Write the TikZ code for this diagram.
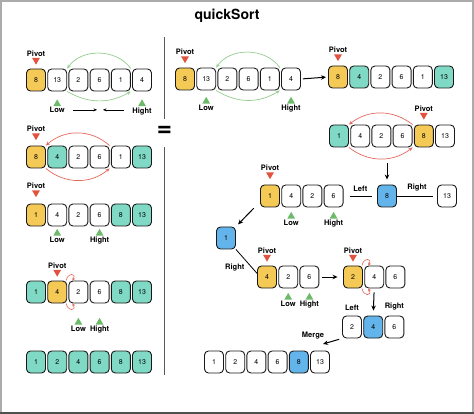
\documentclass[tikz,border=0pt]{standalone}
\usepackage{fontspec}
\setmainfont{TeX Gyre Heros}
\usepackage{tikz}
\usetikzlibrary{positioning,arrows.meta,shapes.geometric,calc}
\definecolor{qsYellow}{HTML}{F4C956}
\definecolor{qsTeal}{HTML}{7FD9C4}
\definecolor{qsBlue}{HTML}{63B4EA}
\definecolor{qsRed}{HTML}{E2533F}
\definecolor{qsArcRed}{HTML}{E4675C}
\definecolor{qsGreen}{HTML}{6DBB6A}
\definecolor{qsArcGreen}{HTML}{94CC8E}
\definecolor{qsFrame}{HTML}{ABABAB}
\definecolor{qsDark}{HTML}{4F4F4F}
\definecolor{qsDivider}{HTML}{5A5A5A}

% one row of array cells: name, first x, y, value/style list
\newcommand{\cellrow}[4]{%
  \foreach \val/\sty [count=\ci] in {#4}
    \node[\sty] (#1\ci) at ({#2+21.2*(\ci-1)},#3) {\val};}

\begin{document}
\begin{tikzpicture}[
      x=1pt,y=1pt,
      cellbox/.style={draw=black!90,line width=0.9pt,rounded corners=4pt,fill=white,
                  minimum width=19pt,minimum height=22pt,inner sep=0pt,
                  font=\fontsize{7}{8}\selectfont},
      pivbox/.style={cellbox,fill=qsYellow},
      donebox/.style={cellbox,fill=qsTeal},
      midbox/.style={cellbox,fill=qsBlue},
      lbl/.style={font=\bfseries\fontsize{7.5}{8}\selectfont,inner sep=1pt},
      pivmark/.style={regular polygon,regular polygon sides=3,shape border rotate=180,
                  fill=qsRed,minimum size=9pt,inner sep=0pt,label distance=1.5pt},
      lowmark/.style={regular polygon,regular polygon sides=3,
                  fill=qsGreen,minimum size=9pt,inner sep=0pt,label distance=1.5pt},
      grnarr/.style={-{Stealth[length=4pt,width=3.5pt]},line width=0.7pt,qsArcGreen},
      redarr/.style={-{Stealth[length=4pt,width=3.5pt]},line width=0.7pt,qsArcRed},
      curlarr/.style={-{Stealth[length=3pt,width=3pt]},line width=0.6pt,qsArcRed},
      blkarr/.style={-{Stealth[length=5pt,width=4.5pt]},line width=1pt},
      thinarr/.style={-{Stealth[length=3.5pt,width=3pt]},line width=0.5pt},
      tieline/.style={line width=0.8pt}]
    \useasboundingbox (0,0) rectangle (474,-414);
    \draw[qsFrame,line width=4pt] (0,0) rectangle (474,-414);
    \draw[qsDark,line width=5pt] (0,-414) -- (474,-414);

    \node[font=\bfseries\fontsize{14}{16}\selectfont] (title) at (227,-16) {quickSort};
    \node[font=\bfseries\fontsize{26}{26}\selectfont,inner sep=0pt] (equal) at (164.5,-131.5) {=};
    \draw[qsDivider,line width=1pt] (164,-37) -- (164,-119);
    \draw[qsDivider,line width=1pt] (164,-147) -- (164,-375);

    % left column
    \cellrow{la}{36}{-80}{8/pivbox,13/cellbox,2/cellbox,6/cellbox,1/cellbox,4/cellbox}
    \cellrow{lb}{36}{-157}{8/pivbox,4/donebox,2/cellbox,6/cellbox,1/cellbox,13/donebox}
    \cellrow{lc}{36}{-215}{1/pivbox,4/cellbox,2/cellbox,6/cellbox,8/donebox,13/donebox}
    \cellrow{ld}{36}{-292}{1/donebox,4/pivbox,2/cellbox,6/cellbox,8/donebox,13/donebox}
    \cellrow{le}{36}{-362}{1/donebox,2/donebox,4/donebox,6/donebox,8/donebox,13/donebox}

    \node[pivmark,above=3.5pt of la1,label={[lbl]above:Pivot}] (la1p) {};
    \node[lowmark,below=7.5pt of la2,label={[lbl]below:Low}] (la2l) {};
    \node[lowmark,below=7.5pt of la6,label={[lbl]below:Hight}] (la6h) {};
    \coordinate (lamid) at ($(la2l)!0.5!(la6h)+(0,-6)$);
    \draw[thinarr,shorten <=16pt,shorten >=2.6pt] (la2l.center |- lamid) -- (lamid);
    \draw[thinarr,shorten <=18pt,shorten >=3.4pt] (la6h.center |- lamid) -- (lamid);
    \draw[grnarr] (la5.north east) to[bend right=55] (la2.north east);
    \draw[grnarr] (la2.south east) to[bend right=30] (la5.south east);

    \node[pivmark,above=5pt of lb1,label={[lbl]above:Pivot}] (lb1p) {};
    \draw[redarr] (lb4.north east) to[bend right=42] (lb1.north east);
    \draw[redarr] (lb1.south east) to[bend right=40] (lb4.south east);

    \node[pivmark,above=6pt of lc1,label={[lbl]above:Pivot}] (lc1p) {};
    \node[lowmark,below=2pt of lc2,label={[lbl]below:Low}] (lc2l) {};
    \node[lowmark,below=2pt of lc4,label={[lbl]below:Hight}] (lc4h) {};

    \node[pivmark,above=3.5pt of ld2,label={[lbl]above:Pivot}] (ld2p) {};
    \node[lowmark,below=14pt of ld3,label={[lbl]below:Low}] (ld3l) {};
    \node[lowmark,below=14pt of ld4,label={[lbl]below:Hight}] (ld4h) {};
    \draw[curlarr] ($(ld2.north east)+(-1,0)$) to[out=80,in=60,looseness=3.5] ($(ld3.north west)+(4,0)$);
    \draw[curlarr] ($(ld2.south east)+(-1,0)$) to[out=-80,in=-60,looseness=3.5] ($(ld3.south west)+(4,0)$);

    % right column
    \cellrow{ra}{185}{-79}{8/pivbox,13/cellbox,2/cellbox,6/cellbox,1/cellbox,4/cellbox}
    \cellrow{rb}{338}{-77}{8/pivbox,4/donebox,2/cellbox,6/cellbox,1/cellbox,13/donebox}
    \cellrow{rc}{339}{-136}{1/donebox,4/cellbox,2/cellbox,6/cellbox,8/pivbox,13/cellbox}
    \node[midbox] (mid8) at (387,-196) {8};
    \node[cellbox] (rest13) at (447,-196) {13};
    \cellrow{rd}{270}{-196}{1/pivbox,4/cellbox,2/cellbox,6/cellbox}
    \node[midbox] (mid1) at (226,-238) {1};
    \cellrow{re}{267}{-277}{4/pivbox,2/cellbox,6/cellbox}
    \cellrow{rf}{353}{-277}{2/pivbox,4/cellbox,6/cellbox}
    \cellrow{rg}{352}{-327}{2/cellbox,4/midbox,6/cellbox}
    \cellrow{rh}{214}{-362}{1/cellbox,2/cellbox,4/cellbox,6/cellbox,8/midbox,13/cellbox}

    \node[pivmark,above=4pt of ra1,label={[lbl]above:Pivot}] (ra1p) {};
    \node[lowmark,below=6pt of ra2,label={[lbl]below:Low}] (ra2l) {};
    \node[lowmark,below=6pt of ra6,label={[lbl]below:Hight}] (ra6h) {};
    \draw[grnarr] (ra5.north east) to[bend right=55] (ra2.north east);
    \draw[grnarr] (ra2.south east) to[bend right=32] (ra5.south east);
    \draw[blkarr,shorten <=2pt,shorten >=2pt] (ra6.east) -- (rb1.west);

    \node[pivmark,above=4pt of rb1,label={[lbl]above:Pivot}] (rb1p) {};

    \node[pivmark,above=4.5pt of rc5,label={[lbl]above:Pivot}] (rc5p) {};
    \draw[redarr] (rc4.north east) to[bend right=38] (rc1.north east);
    \draw[redarr] (rc1.south east) to[bend right=38] (rc4.south east);
    \draw[blkarr,shorten <=16pt,shorten >=5pt] (rc3.south -| mid8) -- (mid8.north);

    \draw[tieline,shorten <=6pt,shorten >=5.5pt] (rd4.east) -- node[lbl,above=3pt] {Left} (mid8.west);
    \draw[tieline,shorten >=4pt] (mid8.east) -- node[lbl,above=3pt] {Right} (rest13.west);

    \node[pivmark,above=5pt of rd1,label={[lbl]above:Pivot}] (rd1p) {};
    \node[lowmark,below=4pt of rd2,label={[lbl]below:Low}] (rd2l) {};
    \node[lowmark,below=4pt of rd4,label={[lbl]below:Hight}] (rd4h) {};
    \draw[blkarr,shorten <=9pt,shorten >=3pt] (rd1.210) -- (mid1.north east);
    \draw[tieline] (mid1.south east) -- node[lbl,pos=0.75,left=6pt] {Right} (re1.160);

    \node[pivmark,above=3.5pt of re1,label={[lbl]above:Pivot}] (re1p) {};
    \node[lowmark,below=4pt of re2,label={[lbl]below:Low}] (re2l) {};
    \node[lowmark,below=4pt of re3,label={[lbl]below:Hight}] (re3h) {};
    \draw[blkarr,shorten <=3pt,shorten >=5.5pt] (re3.east) -- (rf1.west);

    \node[pivmark,above=3.5pt of rf1,label={[lbl]above:Pivot}] (rf1p) {};
    \draw[curlarr] ($(rf1.north east)+(-1,0)$) to[out=80,in=60,looseness=3.5] ($(rf2.north west)+(4,0)$);
    \draw[curlarr] ($(rf1.south east)+(-1,0)$) to[out=-80,in=-60,looseness=3.5] ($(rf2.south west)+(4,0)$);
    \draw[blkarr,shorten <=4pt,shorten >=5pt] (rf2.south) -- (rg2.north);

    \node[lbl,above=4pt of rg1] (rgleft) {Left};
    \node[lbl,above=4pt of rg3] (rgright) {Right};
    \node[lbl] (merge) at (313,-336) {Merge};
    \coordinate (mergeend) at (323,-344);
    \draw[blkarr,shorten <=3pt] (rg1.south west) -- (mergeend);
  \end{tikzpicture}
\end{document}
